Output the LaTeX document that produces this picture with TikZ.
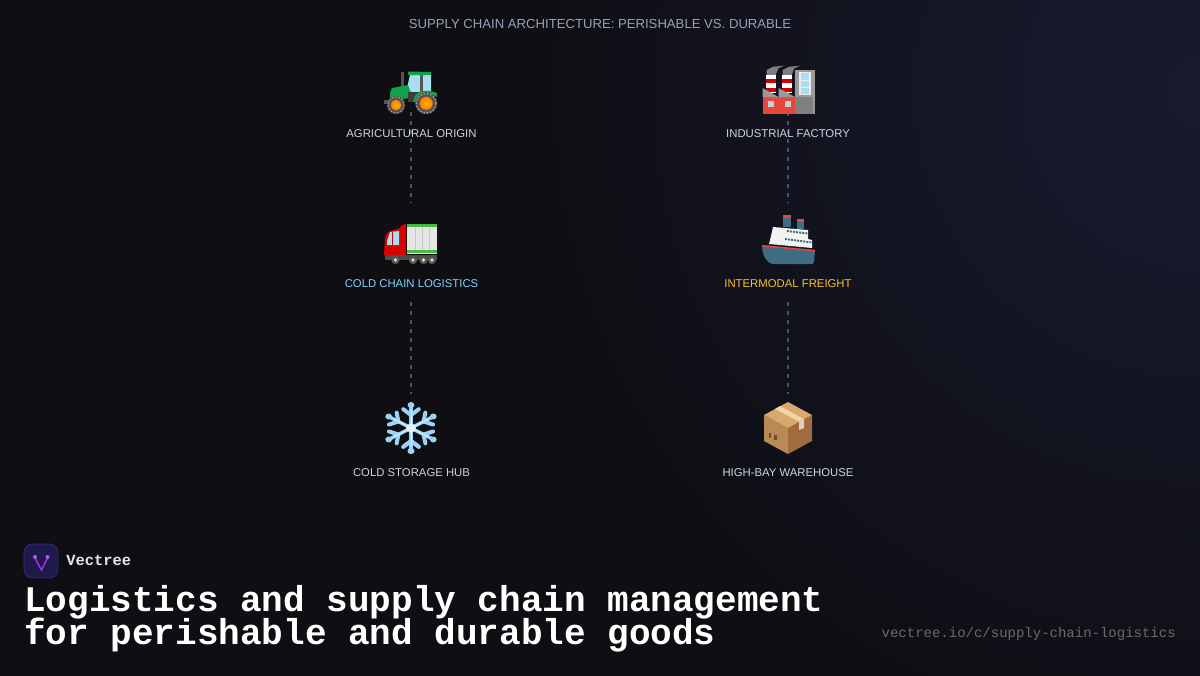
\documentclass[tikz,border=0pt]{standalone}
\usepackage{fontspec}
\setmainfont{Liberation Sans}
\setmonofont{Liberation Mono}
\definecolor{pagebg}{HTML}{0E0E13}
\definecolor{glowbg}{HTML}{181B30}
\definecolor{linkgrey}{HTML}{475569}
\definecolor{labelgrey}{HTML}{CBD5E1}
\definecolor{titlegrey}{HTML}{94A3B8}
\definecolor{coldblue}{HTML}{7DD3FC}
\definecolor{freightamber}{HTML}{FBBF24}
\definecolor{urlgrey}{HTML}{6B6B6B}
\definecolor{iceblue}{HTML}{9AD3F5}
\definecolor{glassblue}{HTML}{A9DDF3}
\definecolor{brickred}{HTML}{E5483A}
\definecolor{steelgrey}{HTML}{9A9A9A}
\definecolor{smokegrey}{HTML}{7E7E7E}
\definecolor{hullteal}{HTML}{3E6C82}
\definecolor{tractorgreen}{HTML}{12A24B}
\definecolor{tyregrey}{HTML}{5A5450}
\definecolor{wheelorange}{HTML}{FF9800}
\definecolor{parceltop}{HTML}{D8A86C}
\definecolor{parcelleft}{HTML}{B98A55}
\definecolor{parcelright}{HTML}{A06C3E}
\definecolor{parceltape}{HTML}{F1D3A6}
\definecolor{logofill}{HTML}{1E1B4B}
\definecolor{logoedge}{HTML}{312E81}
\definecolor{logomark}{HTML}{A333EA}
\tikzset{
  station/.style={minimum size=33pt, inner sep=0pt},
  stationlabel/.style={text=labelgrey, font=\fontsize{8.5}{10}\selectfont, inner sep=0pt},
  headline/.style={anchor=base west, inner sep=0pt, text=white, font=\ttfamily\bfseries\fontsize{27}{30}\selectfont},
  link/.style={draw=linkgrey, line width=1.1pt, dash pattern=on 3pt off 3.75pt},
  logobox/.style={draw=logoedge, fill=logofill, rounded corners=6pt, minimum size=25.5pt, inner sep=0pt},
  pics/tractor/.style={code={
    \fill[tyregrey] (-10,-18) rectangle (-7.5,-2);
    \fill[glassblue] (-1,-15) -- (20,-15) -- (20,2) -- (-5,2) -- cycle;
    \fill[tyregrey] (9,-15) rectangle (12,2);
    \fill[tractorgreen] (-3,-18.5) -- (20,-18) -- (20,-15) -- (-3,-15) -- cycle;
    \fill[tractorgreen] (-21,3) -- (-19,-2) -- (-3,-5) -- (2,8) -- (-21,10) -- cycle;
    \fill[tyregrey!70!black] (-3,2) rectangle (10,12);
    \fill[tractorgreen] (2,12) .. controls (3,1) and (14,-2) .. (26,3) -- (26,7) .. controls (18,2) and (8,3) .. (6,12) -- cycle;
    \fill[tyregrey] (-27,10) rectangle (-20,14);
    \fill[tyregrey] (15.2,13.3) circle [radius=11];
    \draw[gray!70, line width=0.9pt, dash pattern=on 1pt off 1.5pt] (15.2,13.3) circle [radius=9.8];
    \shade[inner color=wheelorange!70!yellow, outer color=wheelorange!80!red] (15.2,13.3) circle [radius=6.5];
    \fill[tyregrey] (-15,15) circle [radius=9];
    \draw[gray!70, line width=0.8pt, dash pattern=on 1pt off 1.5pt] (-15,15) circle [radius=8];
    \shade[inner color=wheelorange!70!yellow, outer color=wheelorange!80!red] (-15,15) circle [radius=5.3];
  }},
  pics/truck/.style={code={
    \fill[gray!60!black] (-26,15) rectangle (26,20);
    \fill[black] (-5,-16) rectangle (26,15);
    \fill[gray!20] (-4,-16) rectangle (26,14);
    \fill[green!45!gray] (-4,-16) rectangle (26,-13);
    \fill[green!45!gray] (-4,10) rectangle (26,13);
    \foreach \barx in {4,11,18}
      \fill[gray!45] (\barx,-13) rectangle (\barx+1,10);
    \fill[red!85!black] (-27,15) -- (-26,-3) .. controls (-24,-8) and (-21,-10) .. (-12,-11) .. controls (-10,-15) and (-8,-16) .. (-5,-16) -- (-5,15) -- cycle;
    \fill[glassblue] (-24,1) -- (-21,-8) -- (-12,-9) -- (-12,5) -- (-24,5) -- cycle;
    \fill[red!85!black] (-19,-8) rectangle (-18,5);
    \foreach \wheelx in {-15.5,2,12.5,21}{
      \fill[tyregrey] (\wheelx,20) circle [radius=4.2];
      \fill[gray!30] (\wheelx,20) circle [radius=1.8];
    }
  }},
  pics/factory/.style={code={
    \foreach \stackx in {0,16}
      \fill[smokegrey, xshift=\stackx*0.75pt] (-21.3,-15) -- (-21.3,-20) -- (-14.7,-23.3) -- (-4,-24.3) -- (-9.7,-21.7) -- (-12.3,-15) -- cycle;
    \foreach \stackx in {-22,-6}{
      \fill[white] (\stackx,-15) rectangle (\stackx+10,3);
      \fill[red!80!black] (\stackx,-11) rectangle (\stackx+10,-7);
      \fill[red!80!black] (\stackx,-2) rectangle (\stackx+10,2);
    }
    \fill[steelgrey] (7,-20) rectangle (27,23.5);
    \fill[white!85!gray] (11,-18) rectangle (23,5);
    \fill[glassblue] (13,-17) rectangle (21,-10);
    \fill[glassblue] (13,-9) rectangle (21,-3);
    \fill[glassblue] (13,-2) rectangle (21,4);
    \fill[gray] (7,7) rectangle (25,23.5);
    \fill[brickred] (-25.5,7) rectangle (7,23.5);
    \fill[steelgrey] (-25.5,-2) -- (-9.5,7) -- (-25.5,7) -- cycle;
    \fill[steelgrey] (-9.5,-2) -- (7,7) -- (-9.5,7) -- cycle;
    \foreach \winx in {-17,0}{
      \fill[steelgrey!50] (\winx-3,11) rectangle (\winx+3,17);
      \fill[glassblue] (\winx-1.5,12.5) rectangle (\winx+1.5,15.5);
    }
  }},
  pics/ship/.style={code={
    \fill[hullteal] (-5,-25) rectangle (3,-13);
    \fill[brickred] (-5,-25) rectangle (3,-22);
    \fill[hullteal] (9,-21) rectangle (16,-11);
    \fill[brickred] (9,-21) rectangle (16,-18);
    \fill[white!90!gray] (-15,-13) -- (20,-10) -- (20,-1) -- (24,0) -- (24,8) -- (-19,4) -- (-17,-4) -- cycle;
    \draw[hullteal, line width=1.4pt, dash pattern=on 1.5pt off 0.8pt] (-1,-9) -- (20,-6.5);
    \draw[hullteal, line width=1.4pt, dash pattern=on 1.5pt off 0.8pt] (-3,-1) -- (24,2.5);
    \fill[hullteal] (-26,5) -- (27,10) -- (26,22) .. controls (26,24) and (24,24) .. (22,24) -- (-15,24) .. controls (-22,23) and (-26,14) .. (-26,5) -- cycle;
    \fill[brickred] (-26,5) -- (27,10) -- (27,11.5) -- (-26,6.5) -- cycle;
  }},
  pics/flake/.style={code={
    \begin{scope}[xscale=1.12]
    \foreach \arm in {90,150,...,450}{
      \draw[iceblue, line width=2.6pt, line cap=round] (0,0) -- (\arm:23);
      \draw[iceblue, line width=3pt, line cap=round] (\arm:13) -- ++(\arm+50:9);
      \draw[iceblue, line width=3pt, line cap=round] (\arm:13) -- ++(\arm-50:9);
      \fill[iceblue] (\arm:23) circle [radius=3];
      \draw[white!70!iceblue, line width=0.7pt] (0,0) -- (\arm:18);
    }
    \fill[white!70!iceblue] (0,0) circle [radius=4.5];
    \end{scope}
  }},
  pics/parcel/.style={code={
    \fill[parcelleft] (-24,-13) -- (0,0) -- (0,26) -- (-24,13) -- cycle;
    \fill[parcelright] (24,-13) -- (0,0) -- (0,26) -- (24,13) -- cycle;
    \fill[parceltop] (0,-26) -- (24,-13) -- (0,0) -- (-24,-13) -- cycle;
    \fill[parceltape] (-13,-19) -- (-8,-22) -- (16,-9) -- (11,-6.5) -- cycle;
    \fill[white!60!parcelleft] (11,-6.5) -- (16,-9) -- (16,0) -- (11,2) -- cycle;
    \fill[parcelright!70!black] (-19,5) rectangle (-17,10);
    \fill[parcelright!70!black] (-14,7) rectangle (-11,12);
  }},
}
\begin{document}
\begin{tikzpicture}[x=0.75pt, y=-0.75pt]
  \useasboundingbox (0,0) rectangle (1200,675);
  \fill[pagebg] (-3,-3) rectangle (1203,678);
  \begin{scope}
    \clip (-3,-3) rectangle (1203,678);
    \shade[inner color=glowbg, outer color=pagebg] (1200,90) circle [radius=680];
  \end{scope}
  \node[text=titlegrey, font=\fontsize{9.85}{12}\selectfont, inner sep=0pt] (title) at (600,24) {SUPPLY CHAIN ARCHITECTURE: PERISHABLE VS. DURABLE};
  \node[station] (agri) at (411,90) {};
  \node[station] (chain) at (411,240) {};
  \node[station] (storage) at (411,428) {};
  \node[station] (factory) at (788,90) {};
  \node[station] (freight) at (788,240) {};
  \node[station] (warehouse) at (788,428) {};
  \draw[link, shorten >=11.25pt] (agri) -- (chain);
  \draw[link, shorten <=30pt, shorten >=9pt] (chain) -- (storage);
  \draw[link, shorten >=11.25pt] (factory) -- (freight);
  \draw[link, shorten <=30pt, shorten >=9pt] (freight) -- (warehouse);
  \pic at (agri) {tractor};
  \pic at (chain) {truck};
  \pic at (storage) {flake};
  \pic at (factory) {factory};
  \pic at (freight) {ship};
  \pic at (warehouse) {parcel};
  \node[stationlabel] (agrilabel) at (411.5,133.7) {AGRICULTURAL ORIGIN};
  \node[stationlabel, text=coldblue] (chainlabel) at (411.5,283.7) {COLD CHAIN LOGISTICS};
  \node[stationlabel] (storagelabel) at (411.5,472.7) {COLD STORAGE HUB};
  \node[stationlabel] (factorylabel) at (788,133.7) {INDUSTRIAL FACTORY};
  \node[stationlabel, text=freightamber] (freightlabel) at (788,283.7) {INTERMODAL FREIGHT};
  \node[stationlabel] (warehouselabel) at (788,472.7) {HIGH-BAY WAREHOUSE};
  \node[logobox] (logo) at (41,561) {};
  \draw[logomark, line width=1.1pt] (35,558) -- (41.5,570) -- (47.5,558);
  \fill[logomark!80!white] (35,557) circle [radius=2] (47.5,557) circle [radius=2];
  \node[anchor=west, inner sep=0pt, text=white!90!black, font=\ttfamily\bfseries\fontsize{11.6}{14}\selectfont] (brand) at (66,560.3) {Vectree};
  \node[headline] (headlineone) at (24,611.7) {Logistics and supply chain management};
  \node[headline] (headlinetwo) at (24,644.1) {for perishable and durable goods};
  \node[anchor=east, inner sep=0pt, text=urlgrey, font=\ttfamily\fontsize{10.5}{12}\selectfont] (link) at (1176,633.5) {vectree.io/c/supply-chain-logistics};
\end{tikzpicture}
\end{document}
